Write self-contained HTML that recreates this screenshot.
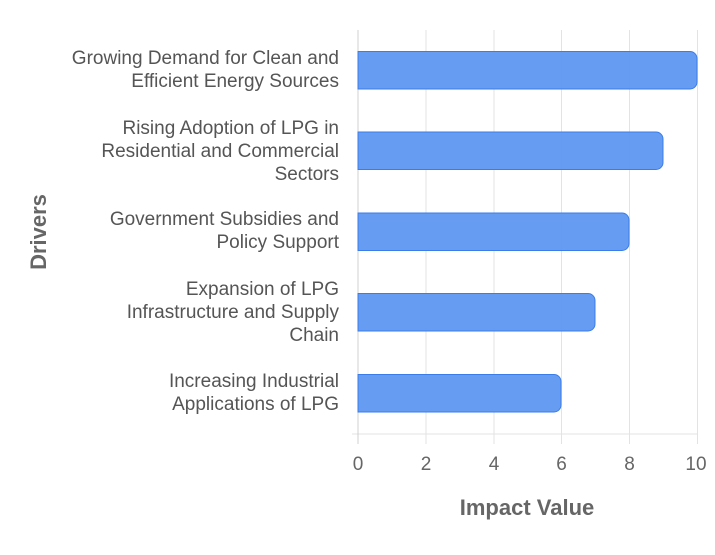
<!DOCTYPE html>
<html><head><style>body{margin:0;background:#fff}</style></head><body>
<svg width="715" height="550" xmlns="http://www.w3.org/2000/svg" font-family="Liberation Sans, sans-serif">
<g stroke="#e3e3e3" stroke-width="1">
<line x1="426" y1="30" x2="426" y2="444"/><line x1="494" y1="30" x2="494" y2="444"/>
<line x1="561.5" y1="30" x2="561.5" y2="444"/><line x1="629.5" y1="30" x2="629.5" y2="444"/>
<line x1="697.5" y1="30" x2="697.5" y2="444"/>
<line x1="352" y1="434" x2="697" y2="434"/>
</g>
<line x1="358" y1="30" x2="358" y2="444" stroke="#d0d0d0"/>
<g fill="#6199f2" fill-opacity="0.97" stroke="#3b7de8" stroke-width="1">
<path d="M358 51.5 H690 a7 7 0 0 1 7 7 V82 a7 7 0 0 1 -7 7 H358 Z"/>
<path d="M358 132 H656 a7 7 0 0 1 7 7 V162.5 a7 7 0 0 1 -7 7 H358 Z"/>
<path d="M358 213 H622 a7 7 0 0 1 7 7 V243.5 a7 7 0 0 1 -7 7 H358 Z"/>
<path d="M358 293.5 H588 a7 7 0 0 1 7 7 V324 a7 7 0 0 1 -7 7 H358 Z"/>
<path d="M358 374.5 H554 a7 7 0 0 1 7 7 V405 a7 7 0 0 1 -7 7 H358 Z"/>
</g>
<g fill="#666" font-size="19" text-anchor="middle">
<text x="358" y="470">0</text><text x="426" y="470">2</text><text x="494" y="470">4</text>
<text x="561.5" y="470">6</text><text x="629.5" y="470">8</text><text x="696" y="470">10</text>
</g>
<g fill="#555" font-size="19" text-anchor="end">
<text x="339" y="64">Growing Demand for Clean and</text>
<text x="339" y="87">Efficient Energy Sources</text>
<text x="339" y="134">Rising Adoption of LPG in</text>
<text x="339" y="157">Residential and Commercial</text>
<text x="339" y="180">Sectors</text>
<text x="339" y="225">Government Subsidies and</text>
<text x="339" y="248">Policy Support</text>
<text x="339" y="295">Expansion of LPG</text>
<text x="339" y="318">Infrastructure and Supply</text>
<text x="339" y="341">Chain</text>
<text x="339" y="387">Increasing Industrial</text>
<text x="339" y="410">Applications of LPG</text>
</g>
<text x="527" y="515" fill="#666" font-size="22" font-weight="bold" text-anchor="middle">Impact Value</text>
<text transform="translate(46,232) rotate(-90)" fill="#666" font-size="22" font-weight="bold" text-anchor="middle">Drivers</text>
</svg>
</body></html>
